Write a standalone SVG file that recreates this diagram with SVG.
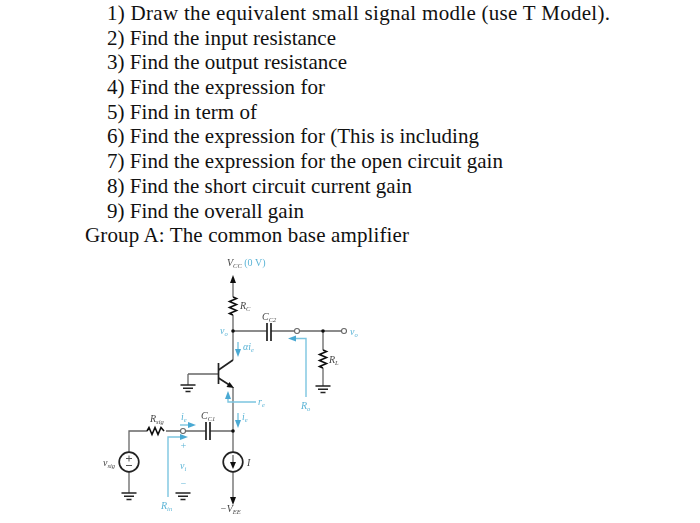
<svg xmlns="http://www.w3.org/2000/svg" width="700" height="523" viewBox="0 0 700 523">
<style>
.q{font-family:"Liberation Serif","Times New Roman",serif;font-size:21px;fill:#111}
.k{font-family:"Liberation Serif",serif;font-style:italic;font-size:10px;fill:#444}
.b{font-family:"Liberation Serif",serif;font-style:italic;font-size:10px;fill:#5bb4d6}
.s{font-size:6.5px}
.w{fill:none;stroke:#666;stroke-width:1.3}
.r{fill:none;stroke:#111;stroke-width:1.6}
.t{fill:none;stroke:#222;stroke-width:1.7}
.bl{fill:none;stroke:#7cc5e0;stroke-width:1.4}
.bh{fill:#4aa9d3}
.d{fill:#111}
.o{fill:#fff;stroke:#666;stroke-width:1.1}
.gnd{fill:none;stroke:#222;stroke-width:1.5}
</style>
<defs>
<g id="ground"><path class="gnd" d="M-7.500 0H7.500M-5 3.200H5M-2.500 6.400H2.500"/></g>
<filter id="soft" x="0" y="0" width="1" height="1"><feGaussianBlur stdDeviation="0.4"/></filter>
</defs>
<rect width="700" height="523" fill="#fff"/>
<g id="questions">
<text class="q" x="107" y="20" textLength="503" lengthAdjust="spacing">1) Draw the equivalent small signal modle (use T Model).</text>
<text class="q" x="107" y="44.500" textLength="229">2) Find the input resistance</text>
<text class="q" x="107" y="69" textLength="240">3) Find the output resistance</text>
<text class="q" x="107" y="94" textLength="218">4) Find the expression for</text>
<text class="q" x="107" y="118.500" textLength="150">5) Find in term of</text>
<text class="q" x="107" y="143" textLength="372">6) Find the expression for (This is including</text>
<text class="q" x="107" y="168" textLength="396">7) Find the expression for the open circuit gain</text>
<text class="q" x="107" y="193" textLength="305">8) Find the short circuit current gain</text>
<text class="q" x="107" y="217.500" textLength="197">9) Find the overall gain</text>
<text class="q" x="85" y="242" textLength="324">Group A: The common base amplifier</text>
</g>
<g id="circuit" filter="url(#soft)">
<g id="connectors">
<path class="w" d="M233 282V297M233 315V360M233 331H267M271 331H294.500M299.500 331H341.500M323 331V350M323 368V386"/>
<path class="w" d="M233 387V452M233 472V497"/>
<path class="w" d="M129 452V431H147M166 431H180.500M185.500 431H206M210 431H233M129 472V493"/>
<path class="w" d="M188 374H218M188 374V385"/>
</g>
<g id="vcc"><path class="d" d="M233 275l-3 8h6z"/><text class="k" x="227" y="266">V<tspan class="s" dy="1.500">CC</tspan><tspan dy="-1.500" fill="#5bb4d6" font-style="normal"> (0 V)</tspan></text></g>
<g id="rc"><path class="r" d="M233 297l3.500 1.500-7 3 7 3-7 3 7 3-7 3 3.500 1.500"/><text class="k" x="240" y="309">R<tspan class="s" dy="1.500">C</tspan></text></g>
<g id="vc-node"><circle class="d" cx="233" cy="331" r="1.800"/><text class="b" x="220" y="334">v<tspan class="s" dy="1.500">o</tspan></text></g>
<g id="cc2"><path class="t" d="M267 323V341M271 323V341"/><text class="k" x="262" y="320">C<tspan class="s" dy="1.500">C2</tspan></text></g>
<g id="out-node"><circle class="o" cx="297" cy="331" r="2.500"/></g>
<g id="rl-node"><circle class="d" cx="323" cy="331" r="1.800"/></g>
<g id="vo-node"><circle class="o" cx="344" cy="331" r="2.500"/><text class="b" x="350" y="335">v<tspan class="s" dy="1.500">o</tspan></text></g>
<g id="rl"><path class="r" d="M323 350l3.500 1.500-7 3 7 3-7 3 7 3-7 3 3.500 1.500"/><text class="k" x="329" y="363">R<tspan class="s" dy="1.500">L</tspan></text></g>
<g id="ground-rl"><use href="#ground" x="323" y="386"/></g>
<g id="transistor"><path class="t" d="M218.500 363V384" stroke-width="2.200"/><path class="t" d="M218.500 370L233 360M218.500 378L231 386"/><path class="d" d="M234 388l-7.500-1 3-5z"/></g>
<g id="ground-base"><use href="#ground" x="188" y="385"/></g>
<g id="alpha-ie"><path class="bl" d="M238 342V351"/><path class="bh" d="M238 357l-3-8h6z"/><text class="b" x="243" y="350" fill="#667">αi<tspan class="s" dy="1.500">e</tspan></text></g>
<g id="re"><path class="bl" d="M256 402H228V397"/><path class="bh" d="M228 391l-3 8h6z"/><text class="b" x="258" y="405">r<tspan class="s" dy="1.500">e</tspan></text></g>
<g id="ie-right"><path class="bl" d="M238 413V422"/><path class="bh" d="M238 428l-3-8h6z"/><text class="b" x="242" y="420">i<tspan class="s" dy="1.500">e</tspan></text></g>
<g id="ro"><path class="bl" d="M306 397V338.500H294"/><path class="bh" d="M288 338.500l8-3v6z"/><text class="b" x="301" y="409">R<tspan class="s" dy="1.500">o</tspan></text></g>
<g id="rsig"><path class="r" d="M147 431l2-3.500 3 7 3-7 3 7 3-7 3 3.500"/><text class="k" x="150" y="422">R<tspan class="s" dy="1.500">sig</tspan></text></g>
<g id="ie-left"><path class="bl" d="M180 425H190"/><path class="bh" d="M196 425l-8-3v6z"/><text class="b" x="181" y="420">i<tspan class="s" dy="1.500">e</tspan></text></g>
<g id="in-node"><circle class="o" cx="183" cy="431" r="2.500"/></g>
<g id="cc1"><path class="t" d="M206 422V440M210 422V440"/><text class="k" x="201" y="419">C<tspan class="s" dy="1.500">C1</tspan></text></g>
<g id="emitter-node"><circle class="d" cx="233" cy="431" r="1.800"/></g>
<g id="rin"><path class="bl" d="M168 497V437H182"/><path class="bh" d="M188 437l-8-3v6z"/><text class="b" x="161" y="509">R<tspan class="s" dy="1.500">in</tspan></text></g>
<g id="vi"><text class="b" x="180" y="449" font-style="normal">+</text><text class="b" x="180" y="469">v<tspan class="s" dy="1.500">i</tspan></text><text class="b" x="180" y="487" font-style="normal" fill="#777">−</text></g>
<g id="ground-in"><use href="#ground" x="183" y="493"/></g>
<g id="vsig"><circle cx="129" cy="462" r="9.800" fill="#fff" stroke="#222" stroke-width="1.700"/><path d="M129 455.500v6M126 458.500h6M126 465.500h6" fill="none" stroke="#555" stroke-width="1"/><text class="k" x="103" y="466">v<tspan class="s" dy="1.500">sig</tspan></text></g>
<g id="ground-sig"><use href="#ground" x="129" y="493"/></g>
<g id="isource"><circle cx="233" cy="462" r="9.800" fill="#fff" stroke="#222" stroke-width="1.700"/><path class="w" d="M233 455V465"/><path class="d" d="M233 469l-3-7h6z"/><text class="k" x="247" y="466">I</text></g>
<g id="vee"><path class="d" d="M233 505l-3-8h6z"/><text class="k" x="220" y="512">−V<tspan class="s" dy="1.500">EE</tspan></text></g>
</g>
</svg>
